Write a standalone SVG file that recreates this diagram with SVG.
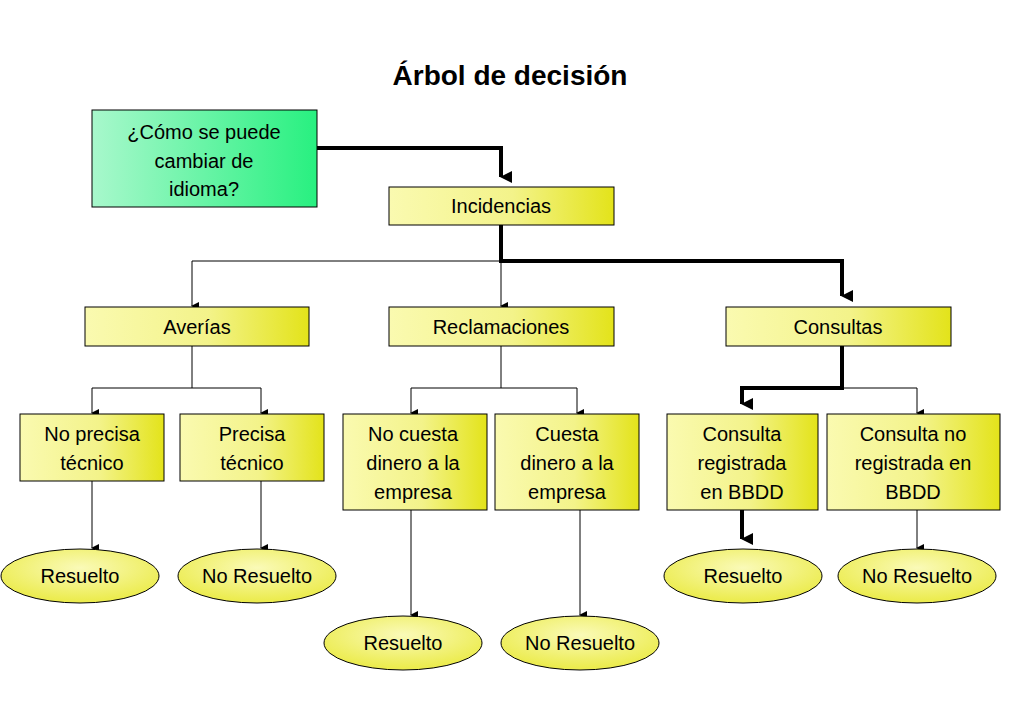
<svg xmlns="http://www.w3.org/2000/svg" width="1020" height="720" viewBox="0 0 1020 720">
<defs>
<linearGradient id="y" x1="0" x2="1" y1="0" y2="0"><stop offset="0" stop-color="#fafab0"/><stop offset="0.55" stop-color="#f3f38a"/><stop offset="1" stop-color="#e3e31a"/></linearGradient>
<linearGradient id="g" x1="0" x2="1" y1="0" y2="0"><stop offset="0" stop-color="#a8f8cc"/><stop offset="1" stop-color="#28f080"/></linearGradient>
<radialGradient id="e" cx="0.5" cy="0.35" r="0.6"><stop offset="0" stop-color="#fafab8"/><stop offset="1" stop-color="#ecec50"/></radialGradient>
<marker id="a" markerWidth="8" markerHeight="8" refX="4" refY="7" orient="auto" markerUnits="userSpaceOnUse" viewBox="0 0 8 8"><path d="M0,0 L8,0 L4,8 Z" fill="#000"/></marker>
<marker id="A" markerWidth="12" markerHeight="12" refX="6" refY="11" orient="auto" markerUnits="userSpaceOnUse" viewBox="0 0 12 12"><path d="M0,0 L12,0 L6,12 Z" fill="#000"/></marker>
</defs>
<style>
.b{fill:url(#y);stroke:#000;stroke-width:1}
.el{fill:url(#e);stroke:#000;stroke-width:1}
text{font-family:"Liberation Sans",Arial,sans-serif;font-size:20px;text-anchor:middle;fill:#000}
.t{fill:none;stroke:#000;stroke-width:1}
.T{fill:none;stroke:#000;stroke-width:4}
</style>
<text x="510" y="85" style="font-size:28px;font-weight:bold">Árbol de decisión</text>
<g id="connectors">
<path class="T" d="M317,148 H501 V177" marker-end="url(#A)"/>
<path class="t" d="M501,225 V261 H192 V306" marker-end="url(#a)"/>
<path class="t" d="M501,261 V306" marker-end="url(#a)"/>
<path class="T" d="M501,225 V261 H842 V296" marker-end="url(#A)"/>
<path class="t" d="M192,346 V388 H92 V413" marker-end="url(#a)"/>
<path class="t" d="M192,388 H261 V413" marker-end="url(#a)"/>
<path class="t" d="M501,346 V388 H411 V413" marker-end="url(#a)"/>
<path class="t" d="M501,388 H577 V413" marker-end="url(#a)"/>
<path class="T" d="M842,346 V388 H742 V404" marker-end="url(#A)"/>
<path class="t" d="M842,388 H917 V413" marker-end="url(#a)"/>
<path class="t" d="M92,481 V548" marker-end="url(#a)"/>
<path class="t" d="M261,481 V548" marker-end="url(#a)"/>
<path class="t" d="M411,510 V615" marker-end="url(#a)"/>
<path class="t" d="M580,510 V615" marker-end="url(#a)"/>
<path class="T" d="M742,510 V539" marker-end="url(#A)"/>
<path class="t" d="M917,510 V548" marker-end="url(#a)"/>
</g>
<g id="q"><rect x="92" y="110" width="225" height="97" fill="url(#g)" stroke="#000"/><text x="204" y="139">¿Cómo se puede</text><text x="204" y="168">cambiar de</text><text x="204" y="196">idioma?</text></g>
<g id="inc"><rect class="b" x="389" y="187" width="225" height="38"/><text x="501" y="213">Incidencias</text></g>
<g id="ave"><rect class="b" x="85" y="307" width="224" height="39"/><text x="197" y="334">Averías</text></g>
<g id="rec"><rect class="b" x="389" y="307" width="225" height="39"/><text x="501" y="334">Reclamaciones</text></g>
<g id="con"><rect class="b" x="726" y="307" width="225" height="39"/><text x="838" y="334">Consultas</text></g>
<g id="npt"><rect class="b" x="20" y="414" width="144" height="67"/><text x="92" y="441">No precisa</text><text x="92" y="470">técnico</text></g>
<g id="pt"><rect class="b" x="180" y="414" width="144" height="67"/><text x="252" y="441">Precisa</text><text x="252" y="470">técnico</text></g>
<g id="ncd"><rect class="b" x="343" y="414" width="144" height="96"/><text x="413" y="441">No cuesta</text><text x="413" y="470">dinero a la</text><text x="413" y="499">empresa</text></g>
<g id="cd"><rect class="b" x="495" y="414" width="144" height="96"/><text x="567" y="441">Cuesta</text><text x="567" y="470">dinero a la</text><text x="567" y="499">empresa</text></g>
<g id="cr"><rect class="b" x="667" y="414" width="151" height="96"/><text x="742" y="441">Consulta</text><text x="742" y="470">registrada</text><text x="742" y="499">en BBDD</text></g>
<g id="cnr"><rect class="b" x="827" y="414" width="173" height="96"/><text x="913" y="441">Consulta no</text><text x="913" y="470">registrada en</text><text x="913" y="499">BBDD</text></g>
<g id="r1"><ellipse class="el" cx="80" cy="576" rx="79" ry="27"/><text x="80" y="583">Resuelto</text></g>
<g id="r2"><ellipse class="el" cx="257" cy="576" rx="79" ry="27"/><text x="257" y="583">No Resuelto</text></g>
<g id="r3"><ellipse class="el" cx="403" cy="643" rx="79" ry="27"/><text x="403" y="650">Resuelto</text></g>
<g id="r4"><ellipse class="el" cx="580" cy="643" rx="79" ry="27"/><text x="580" y="650">No Resuelto</text></g>
<g id="r5"><ellipse class="el" cx="743" cy="576" rx="79" ry="27"/><text x="743" y="583">Resuelto</text></g>
<g id="r6"><ellipse class="el" cx="917" cy="576" rx="79" ry="27"/><text x="917" y="583">No Resuelto</text></g>
</svg>
